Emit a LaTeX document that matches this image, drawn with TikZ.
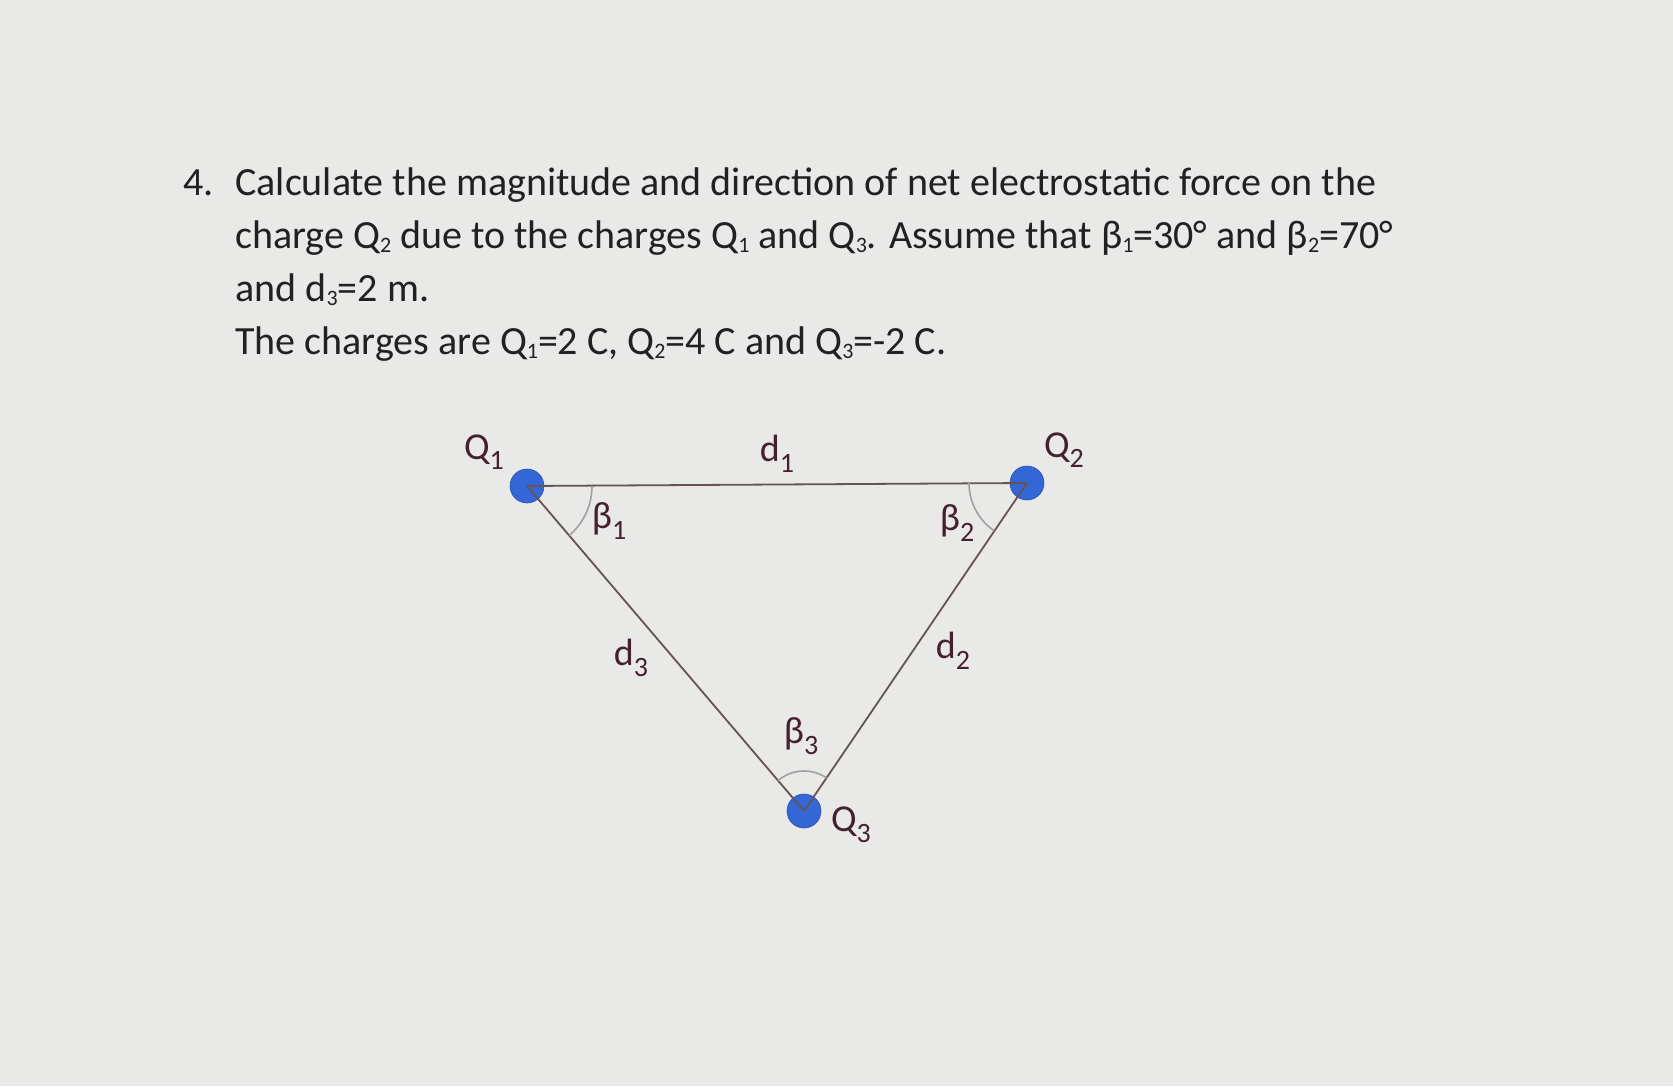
\documentclass[tikz,border=0pt]{standalone}
\usepackage{fontspec}
\setmainfont{Carlito}
\newcommand\lsub[1]{\raisebox{-0.28em}{\fontsize{14}{15}\selectfont #1}}
\newcommand\tsub[1]{\raisebox{-0.12em}{\fontsize{11}{12}\selectfont #1}}
\definecolor{bg}{RGB}{233,233,231}
\definecolor{txt}{RGB}{34,32,34}
\definecolor{lbl}{RGB}{68,32,48}
\definecolor{edgec}{RGB}{100,84,86}
\definecolor{arcc}{RGB}{160,160,160}
\definecolor{dotc}{RGB}{52,102,214}
\begin{document}
\begin{tikzpicture}[x=0.5pt,y=0.5pt,
  bodytext/.style={anchor=base west,inner sep=0pt,text=txt,font=\fontsize{20}{24}\selectfont},
  lab/.style={inner sep=0pt,text=lbl,font=\fontsize{19}{21}\selectfont},
  charge/.style={circle,fill=dotc,draw=dotc!80!black,line width=0.3pt,minimum size=17pt,inner sep=0pt},
  edge/.style={draw=edgec,line width=0.9pt},
  anglearc/.style={draw=arcc,line width=0.8pt}]
\fill[bg] (0,0) rectangle (1673,-1086);
\useasboundingbox (0,0) rectangle (1673,-1086);
% problem text
\node[bodytext] (num) at (183,-195) {4.};
\node[bodytext] (l1) at (235,-195) {Calculate the magnitude and direction of net electrostatic force on the};
\node[bodytext] (l2) at (235,-248) {charge Q\tsub{2} due to the charges Q\tsub{1} and Q\tsub{3}. Assume that β\tsub{1}=30° and β\tsub{2}=70°};
\node[bodytext] (l3) at (235,-301) {and d\tsub{3}=2 m.};
\node[bodytext] (l4) at (235,-354) {The charges are Q\tsub{1}=2 C, Q\tsub{2}=4 C and Q\tsub{3}=-2 C.};
% charges
\node[charge] (q1) at (527,-486) {};
\node[charge] (q2) at (1027,-483) {};
\node[charge] (q3) at (804,-811) {};
% sides
\draw[edge] (q1.center) -- (q2.center);
\draw[edge] (q2.center) -- (q3.center);
\draw[edge] (q3.center) -- (q1.center);
% angle arcs
\draw[anglearc] (q1.center) ++(0:65) arc[start angle=0,end angle=-49.5,radius=65];
\draw[anglearc] (q2.center) ++(180:58) arc[start angle=180,end angle=235.5,radius=58];
\draw[anglearc] (q3.center) ++(55.5:40) arc[start angle=55.5,end angle=130.5,radius=40];
% labels
\node[lab] (lq1) at (484,-452) {Q\lsub{1}};
\node[lab] (lq2) at (1064,-450) {Q\lsub{2}};
\node[lab] (lq3) at (851,-825) {Q\lsub{3}};
\node[lab] (ld1) at (777,-454) {d\lsub{1}};
\node[lab] (ld2) at (953,-651) {d\lsub{2}};
\node[lab] (ld3) at (631,-658) {d\lsub{3}};
\node[lab] (lb1) at (609,-521) {β\lsub{1}};
\node[lab] (lb2) at (957,-523) {β\lsub{2}};
\node[lab] (lb3) at (801,-736) {β\lsub{3}};
\end{tikzpicture}
\end{document}
